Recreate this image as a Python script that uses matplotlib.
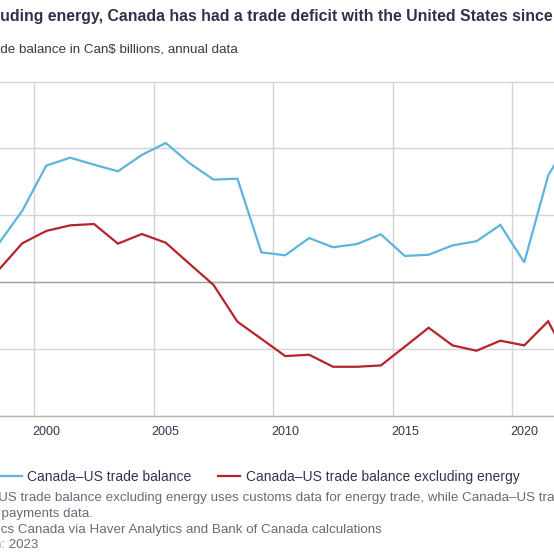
import matplotlib
matplotlib.use("Agg")
import matplotlib.pyplot as plt
from matplotlib.font_manager import FontProperties
import numpy as np

plt.rcParams['font.family'] = ['Liberation Sans', 'DejaVu Sans']

# ---------------- data ----------------
years = list(range(1998, 2023))
trade_balance = [28.5, 53.4, 87.1, 93.0, 87.8, 82.8, 95.1, 104.0, 88.8, 76.6, 77.3,
                 22.2, 20.0, 32.9, 26.0, 28.4, 35.7, 19.5, 20.4, 27.4, 30.5, 42.7,
                 14.7, 79.6, 110.0]
trade_balance_ex_energy = [8.9, 29.0, 38.2, 42.4, 43.4, 28.7, 35.9, 29.4, 13.5, -2.2,
                           -29.7, -42.5, -55.4, -54.4, -63.4, -63.4, -62.4, -48.4,
                           -34.2, -47.4, -51.4, -43.9, -47.4, -29.4, -63.0]
tick_years = [2000, 2005, 2010, 2015, 2020]
tick_labels = ["2000", "2005", "2010", "2015", "2020"]
y_grid = [-100, -50, 0, 50, 100, 150]
series_names = ["Canada–US trade balance", "Canada–US trade balance excluding energy"]

title = "Chart 1: Excluding energy, Canada has had a trade deficit with the United States since 2009"
subtitle = "Canada–US trade balance in Can$ billions, annual data"
notes = [
    "Note: Canada–US trade balance excluding energy uses customs data for energy trade, while Canada–US trade balance",
    "uses balance of payments data.",
    "Sources: Statistics Canada via Haver Analytics and Bank of Canada calculations",
    "Last observation: 2023",
]

# ---------------- layout ----------------
W = H = 554
fig = plt.figure(figsize=(W / 100, H / 100), dpi=100)
fig.patch.set_facecolor("white")

ax_top_px, ax_bot_px = 81.5, 415.7
ax = fig.add_axes([0, (H - ax_bot_px) / H, 1, (ax_bot_px - ax_top_px) / H])

blue = "#5DB4DD"
red = "#B5232B"
x = np.array(years) + 0.5  # annual values plotted mid-year
l1, = ax.plot(x, trade_balance, color=blue, lw=1.6, solid_joinstyle="miter", zorder=3)
l2, = ax.plot(x, trade_balance_ex_energy, color=red, lw=1.6, solid_joinstyle="miter", zorder=3)

px_per_year = (512.3 - 34.3) / 20
ax.set_xlim(2000 - 34.3 / px_per_year, 2000 + (W - 34.3) / px_per_year)
ax.set_ylim(-100, 150)

ax.set_xticks(tick_years, minor=True)
ax.set_xticks([t + 0.5 for t in tick_years], tick_labels)
ax.set_yticks(y_grid)
ax.tick_params(axis="x", which="both", length=0, pad=7.2, labelsize=9, labelcolor="#35354F")
ax.tick_params(axis="y", which="both", length=0, labelleft=False)
ax.grid(False)
ax.grid(True, axis="x", which="minor", color="#d4d4d4", lw=1.0)
ax.grid(True, axis="y", which="major", color="#d4d4d4", lw=1.0)
ax.axhline(0, color="#a3a3a3", lw=1.0, zorder=2)
ax.set_axisbelow(True)
for s in ["left", "right"]:
    ax.spines[s].set_visible(False)
ax.spines["top"].set_color("#d4d4d4")
ax.spines["top"].set_linewidth(1.0)
ax.spines["bottom"].set_color("#b5b5b5")
ax.spines["bottom"].set_linewidth(1.0)

# ---------------- texts (cropped on the left like the reference) ----------------
renderer = fig.canvas.get_renderer()


def place(full, prefix, vis_x, base_y, size, weight="normal", color="#333"):
    fp = FontProperties(family=['Liberation Sans', 'DejaVu Sans'], size=size, weight=weight)
    w = renderer.get_text_width_height_descent(prefix, fp, ismath=False)[0] if prefix else 0
    fig.text((vis_x - w) / W, (H - base_y) / H, full, fontproperties=fp, color=color,
             ha="left", va="baseline")


place(title, "Chart 1: Excl", 0.0, 20.7, 11.45, weight="bold", color="#30304C")
place(subtitle, "Canada–US tra", 0.7, 52.7, 9.6, color="#3a3a3a")

note_color = "#6A6A78"
place(notes[0], "Note: Canada–", -1.5, 501.5, 9.6, color=note_color)
place(notes[1], "uses balance of", -2.0, 516.7, 9.6, color=note_color)
place(notes[2], "Sources: Statisti", 1.0, 533.0, 9.6, color=note_color)
place(notes[3], "Last observation", 0.8, 548.2, 9.6, color=note_color)

fig.legend([l1, l2], series_names, loc="center left",
           bbox_to_anchor=(-1.0 / W, (H - 477.3) / H), bbox_transform=fig.transFigure,
           ncol=2, frameon=False, fontsize=10, handlelength=1.63, handletextpad=0.41,
           columnspacing=1.89, borderpad=0, borderaxespad=0, labelcolor="#333350")

fig.savefig("out.png", dpi=100, facecolor="white")
